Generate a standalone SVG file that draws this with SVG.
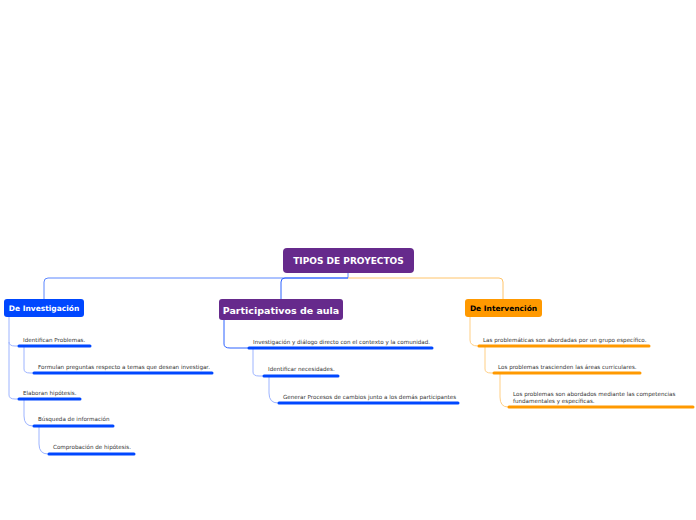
<svg xmlns="http://www.w3.org/2000/svg" width="696" height="520" viewBox="0 0 696 520">
<style>
text{font-family:Verdana,"DejaVu Sans",sans-serif}
.t{font-size:5.6px;fill:#333}
.nb{font-weight:bold;font-size:7.5px}
.c{fill:none;stroke-width:1}
.ub{stroke:#0047ff;stroke-width:3;stroke-linecap:round}
.uo{stroke:#ff9900;stroke-width:3;stroke-linecap:round}
.lb{stroke:#9db4ff}
.lo{stroke:#ffcf85}
</style>
<rect width="696" height="520" fill="#fff"/>
<g id="connectors">
<path class="c" d="M348,273V278H48Q44,278 44,282V299" stroke="#5b86ff"/>
<path class="c" d="M348,278H285Q281,278 281,282V299" stroke="#2d62ff"/>
<path class="c" d="M348,278H499Q503,278 503,282V299" stroke="#ffc46a"/>
<path class="c lb" d="M9,317V342Q9,346 15,346H18"/>
<path class="c lb" d="M24,346V369Q24,373 30,373H33"/>
<path class="c lb" d="M9,342V395Q9,399 15,399H18"/>
<path class="c lb" d="M24,399V416Q24,426 33,426"/>
<path class="c lb" d="M39,426V444Q39,454 48,454"/>
<path class="c" stroke="#2d62ff" d="M224,320V344Q224,348 230,348H248"/>
<path class="c lb" d="M253,348V372Q253,376 259,376H263"/>
<path class="c lb" d="M269,376V393Q269,403 278,403"/>
<path class="c lo" d="M470,317V340Q470,346 478,346"/>
<path class="c lo" d="M485,346V369Q485,373 491,373H493"/>
<path class="c lo" d="M500,373V397Q500,407 508,407"/>
</g>
<g id="root"><rect x="283" y="248" width="131" height="25" rx="4" fill="#662a8c"/><text x="348.5" y="264" text-anchor="middle" font-size="9" font-weight="bold" fill="#fff">TIPOS DE PROYECTOS</text></g>
<g id="inv"><rect x="4" y="299" width="80" height="18" rx="3" fill="#0047ff"/><text x="44" y="311" text-anchor="middle" class="nb" fill="#fff">De Investigación</text></g>
<g id="par"><rect x="219" y="299" width="124" height="21" rx="3" fill="#662a8c"/><text x="281" y="313.5" text-anchor="middle" font-size="9.5" font-weight="bold" fill="#fff">Participativos de aula</text></g>
<g id="int"><rect x="465" y="299" width="77" height="18" rx="3" fill="#ff9900"/><text x="503.5" y="311" text-anchor="middle" class="nb" fill="#000">De Intervención</text></g>
<g id="i1"><text x="23" y="341.5" class="t">Identifican Problemas.</text><line class="ub" x1="19" y1="346" x2="90" y2="346"/></g>
<g id="i2"><text x="38" y="368.5" class="t">Formulan preguntas respecto a temas que desean investigar.</text><line class="ub" x1="34" y1="373" x2="212" y2="373"/></g>
<g id="i3"><text x="23" y="394.5" class="t">Elaboran hipótesis.</text><line class="ub" x1="19" y1="399" x2="80" y2="399"/></g>
<g id="i4"><text x="38" y="421" class="t">Búsqueda de información</text><line class="ub" x1="34" y1="426" x2="113" y2="426"/></g>
<g id="i5"><text x="53" y="449" class="t">Comprobación de hipótesis.</text><line class="ub" x1="49" y1="454" x2="134" y2="454"/></g>
<g id="p1"><text x="253" y="344" class="t">Investigación y diálogo directo con el contexto y la comunidad.</text><line class="ub" x1="249" y1="348" x2="432" y2="348"/></g>
<g id="p2"><text x="268" y="371" class="t">Identificar necesidades.</text><line class="ub" x1="264" y1="376" x2="338" y2="376"/></g>
<g id="p3"><text x="283" y="398.5" class="t">Generar Procesos de cambios junto a los demás participantes</text><line class="ub" x1="279" y1="403" x2="458" y2="403"/></g>
<g id="n1"><text x="483" y="341.5" class="t">Las problemáticas son abordadas por un grupo específico.</text><line class="uo" x1="479" y1="346" x2="649" y2="346"/></g>
<g id="n2"><text x="498" y="368.5" class="t">Los problemas trascienden las áreas curriculares.</text><line class="uo" x1="494" y1="373" x2="640" y2="373"/></g>
<g id="n3"><text x="513" y="396" class="t">Los problemas son abordados mediante las competencias</text><text x="513" y="403" class="t">fundamentales y específicas.</text><line class="uo" x1="509" y1="407" x2="693" y2="407"/></g>
</svg>
